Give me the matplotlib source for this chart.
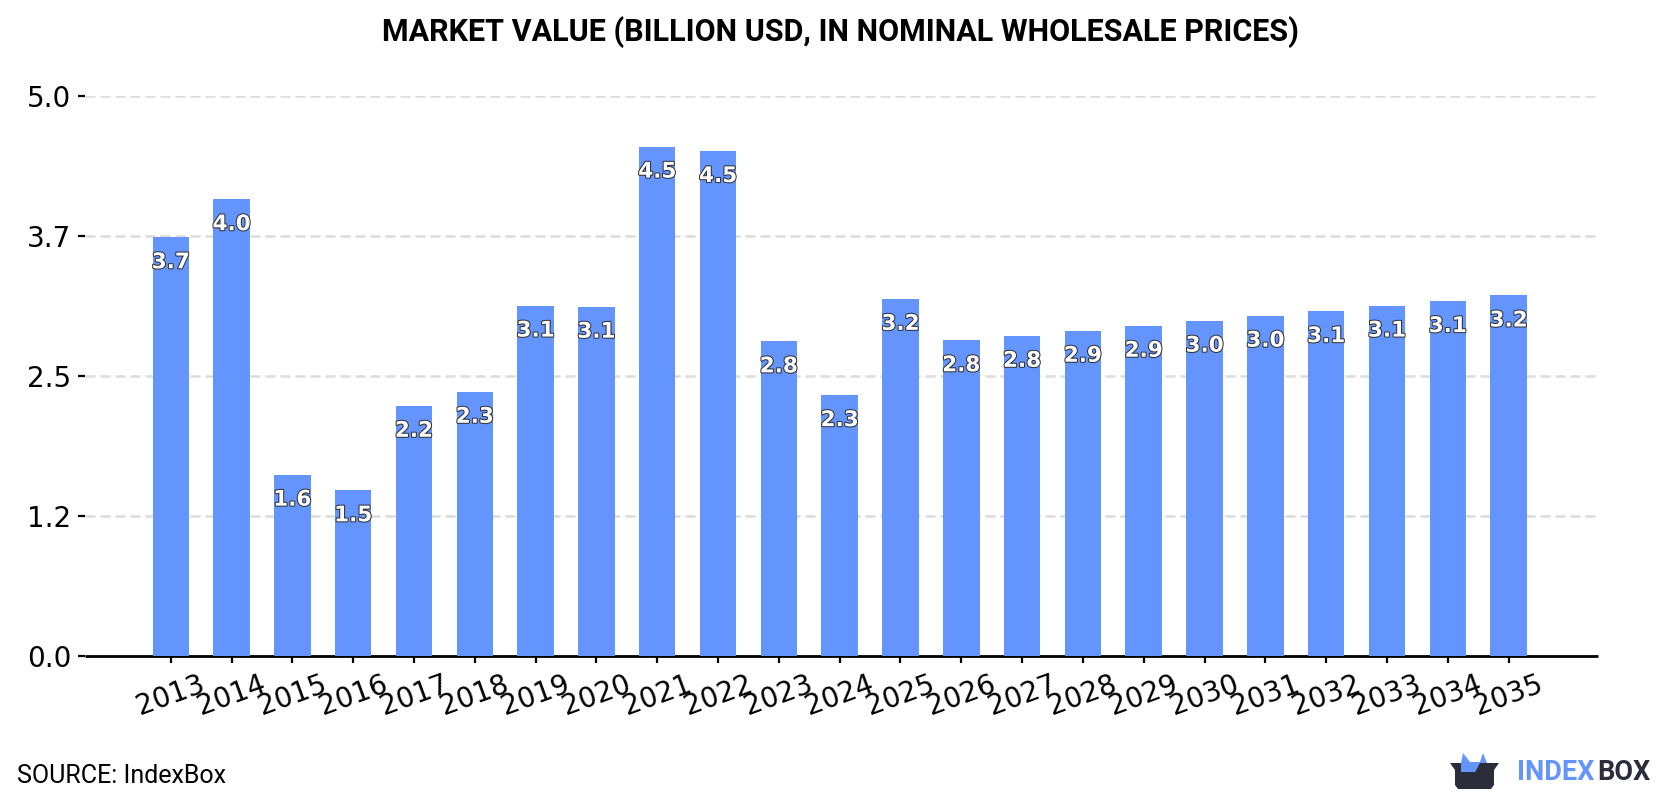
import matplotlib
matplotlib.use("Agg")
import matplotlib.pyplot as plt
import matplotlib.patheffects as pe
from matplotlib.patches import Polygon

years = [str(y) for y in range(2013, 2036)]
values = [3.74, 4.08, 1.62, 1.48, 2.235, 2.36, 3.13, 3.12, 4.55, 4.51, 2.81, 2.33,
          3.19, 2.82, 2.86, 2.905, 2.95, 2.995, 3.04, 3.08, 3.13, 3.17, 3.22]
value_labels = ["3.7", "4.0", "1.6", "1.5", "2.2", "2.3", "3.1", "3.1", "4.5", "4.5", "2.8", "2.3",
                "3.2", "2.8", "2.8", "2.9", "2.9", "3.0", "3.0", "3.1", "3.1", "3.1", "3.2"]
y_ticks = [0.0, 1.25, 2.5, 3.75, 5.0]
y_tick_labels = ["0.0", "1.2", "2.5", "3.7", "5.0"]

BLUE = "#6495ff"
DARK = "#2b2d3a"
W, H = 1680, 800

fig = plt.figure(figsize=(W / 100, H / 100), dpi=100, facecolor="white")
ax = fig.add_axes([85 / W, 1 - 656 / H, (1598 - 85) / W, (656 - 96.2) / H])

x = list(range(len(years)))
ax.bar(x, values, width=0.6, color=BLUE, zorder=3)
ax.set_xlim(-1.41, 23.47)
ax.set_ylim(0, 5)

# dashed horizontal grid behind the bars
ax.yaxis.grid(True, color="#dcdcdc", linewidth=1.8, linestyle=(0, (4, 2)), zorder=0)
ax.xaxis.grid(False)
ax.set_axisbelow(True)

for side in ["top", "right", "left"]:
    ax.spines[side].set_visible(False)
ax.spines["bottom"].set_linewidth(2.0)
ax.spines["bottom"].set_color("black")
ax.spines["bottom"].set_capstyle("butt")

ax.set_yticks(y_ticks)
ax.set_yticklabels(y_tick_labels, fontfamily="DejaVu Sans", fontsize=20)
ax.set_xticks(x)
ax.set_xticklabels(years, rotation=20, fontfamily="DejaVu Sans", fontsize=20)
ax.tick_params(axis="y", length=5, width=1.6, pad=5, color="black")
ax.tick_params(axis="x", length=5, width=1.6, pad=5.5, color="black")

# value labels sit just inside the top of each bar
for i, (v, lab) in enumerate(zip(values, value_labels)):
    ax.annotate(lab, (i, v), xytext=(0, -18), textcoords="offset points",
                ha="center", va="center", fontsize=15.5, fontweight="bold",
                fontfamily="DejaVu Sans", color="white", zorder=5,
                path_effects=[pe.withStroke(linewidth=1.5, foreground="#333333")])

fig.text(840 / W, 1 - 32 / H, "MARKET VALUE (BILLION USD, IN NOMINAL WHOLESALE PRICES)",
         ha="center", va="center", fontfamily="Roboto", fontweight="bold", fontsize=22)
fig.text(17 / W, 1 - 776 / H, "SOURCE: IndexBox", ha="left", va="center",
         fontfamily="Roboto", fontsize=18)

# logo, drawn on a full-figure overlay in pixel units
logo = fig.add_axes([0, 0, 1, 1], facecolor="none")
logo.set_xlim(0, W)
logo.set_ylim(H, 0)
logo.axis("off")
logo.add_patch(Polygon([(1461, 763), (1463, 753), (1470, 762), (1480, 762), (1483, 753),
                        (1487, 763), (1480, 764), (1475, 772), (1461, 772)],
                       closed=True, facecolor=BLUE, edgecolor="none"))
logo.add_patch(Polygon([(1450, 763), (1461, 763), (1461, 772), (1475, 772), (1480, 763),
                        (1499, 763), (1494, 770), (1494, 785), (1491, 789), (1458, 789),
                        (1455, 785), (1455, 770)],
                       closed=True, facecolor=DARK, edgecolor="none"))
logo.text(1517, 773, "INDEX", ha="left", va="center", color=BLUE,
          fontfamily="Roboto", fontweight="bold", fontsize=19.5)
logo.text(1597, 773, "BOX", ha="left", va="center", color=DARK,
          fontfamily="Roboto", fontweight="bold", fontsize=19.5)

fig.savefig("out.png", dpi=100)
